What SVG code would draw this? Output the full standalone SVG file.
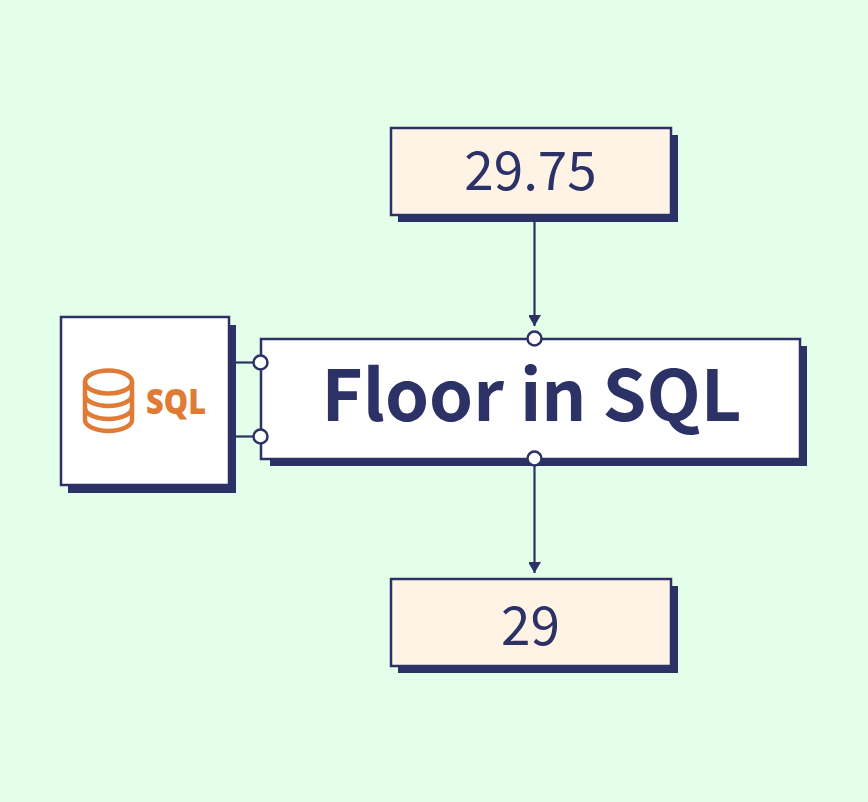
<svg xmlns="http://www.w3.org/2000/svg" width="868" height="802" viewBox="0 0 868 802">
<style>
.box{stroke:#2d3266;stroke-width:2.5}
.shadow{fill:#2d3266}
.conn{stroke:#2d3266;stroke-width:2.2;fill:none}
.dot{fill:#fff;stroke:#2d3266;stroke-width:2.5}
.txt{font-family:"Noto Sans CJK SC","Noto Sans",sans-serif;fill:#2d3266;text-anchor:middle}
.logo{fill:none;stroke:#e07b35;stroke-width:4.5}
</style>
<defs>
<marker id="arrow" markerUnits="userSpaceOnUse" markerWidth="13" markerHeight="12" refX="11" refY="6.500" orient="auto">
<path d="M0,0L11,6.500L0,13Z" fill="#2d3266"/>
</marker>
</defs>
<rect width="868" height="802" fill="#e4ffe9"/>
<g id="node-sql">
<rect class="shadow" x="68" y="325" width="168" height="168"/>
<rect class="box" x="61" y="317" width="168" height="168" fill="#fff"/>
<ellipse class="logo" cx="108.500" cy="382" rx="23.500" ry="11.500"/>
<path class="logo" d="M85,382V420C85,426 96,431 108.500,431C121,431 132,426 132,420V382"/>
<path class="logo" d="M85,395C85,401 96,406 108.500,406C121,406 132,401 132,395"/>
<path class="logo" d="M85,408C85,414 96,419 108.500,419C121,419 132,414 132,408"/>
<text x="176" y="414" font-family="'Open Sans',sans-serif" font-weight="800" font-size="36" fill="#e07b35" text-anchor="middle" textLength="60" lengthAdjust="spacingAndGlyphs">SQL</text>
</g>
<g id="node-input">
<rect class="shadow" x="398" y="135" width="280" height="87"/>
<rect class="box" x="391" y="128" width="280" height="87" fill="#fff3e6"/>
<text class="txt" x="530.500" y="190" font-size="53">29.75</text>
</g>
<g id="node-main">
<rect class="shadow" x="270" y="346" width="537" height="120"/>
<rect class="box" x="261" y="339" width="539" height="120" fill="#fff"/>
<text class="txt" x="531.500" y="421" font-size="70.500" font-weight="700">Floor in SQL</text>
</g>
<g id="node-output">
<rect class="shadow" x="398" y="586" width="280" height="87"/>
<rect class="box" x="391" y="579" width="280" height="87" fill="#fff3e6"/>
<text class="txt" x="530.500" y="645" font-size="53">29</text>
</g>
<g id="connectors">
<path class="conn" d="M534.500,222V326" marker-end="url(#arrow)"/>
<path class="conn" d="M534.500,466V573" marker-end="url(#arrow)"/>
<path class="conn" d="M236,362.500H261"/>
<path class="conn" d="M236,436.500H261"/>
<circle class="dot" cx="534.500" cy="338.500" r="7"/>
<circle class="dot" cx="534.500" cy="458.500" r="7"/>
<circle class="dot" cx="260.500" cy="362.500" r="7"/>
<circle class="dot" cx="260.500" cy="436.500" r="7"/>
</g>
</svg>
